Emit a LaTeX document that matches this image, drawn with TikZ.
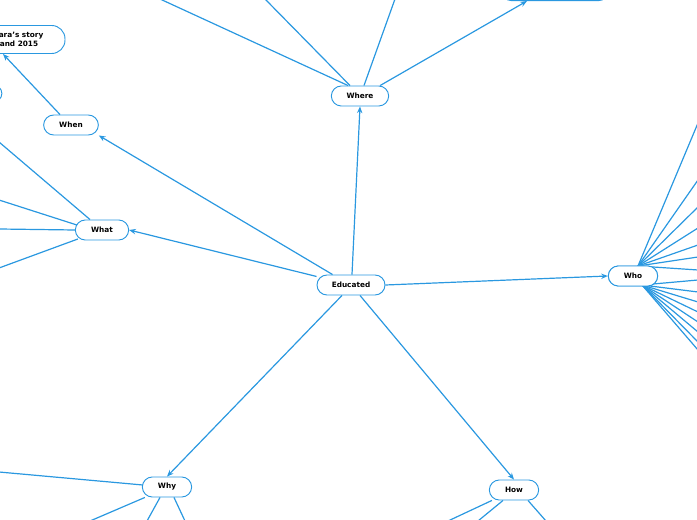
\documentclass[tikz,border=0pt]{standalone}
\usepackage{fontspec}
\setmainfont{DejaVu Sans}
\usetikzlibrary{arrows.meta}
\definecolor{ln}{HTML}{2A98E0}
\begin{document}
\begin{tikzpicture}[x=0.75pt,y=-0.75pt,
  topic/.style={draw=ln,fill=white,rounded corners=7.5pt,line width=0.7pt,minimum height=15pt,inner sep=0pt,font=\fontsize{5.5}{6.5}\selectfont\bfseries,align=center},
  con/.style={draw=ln,line width=0.9pt},
  arr/.style={con,-{Stealth[length=5pt,width=4pt]}}]
\useasboundingbox (0,0) rectangle (697,520);
\clip (0,0) rectangle (697,520);
\node[topic,minimum width=51pt] (edu) at (351,285) {Educated};
\node[topic,minimum width=43pt] (where) at (360,96) {Where};
\node[topic,minimum width=37pt] (who) at (633,276) {Who};
\node[topic,minimum width=40pt] (what) at (102,230) {What};
\node[topic,minimum width=41pt] (when) at (71,125) {When};
\node[topic,minimum width=37pt] (why) at (167,487) {Why};
\node[topic,minimum width=37pt] (how) at (514,490) {How};
\node[topic,minimum width=69pt,minimum height=21pt,rounded corners=10pt] (tara) at (19,39.5) {Tara's story\\and 2015};
\node[topic,minimum width=60pt,minimum height=14pt] (left) at (-38,93.5) {};
\node[topic,minimum width=80pt,minimum height=16pt] (tr) at (555,-10) {};
\coordinate (tarain) at (3,54);
\coordinate (trin) at (527,1);
\draw[arr] (edu.north) ++(1,0) -- (where.south);
\draw[arr] (edu) -- (what.east);
\draw[arr] (edu.north west) ++(16,0) -- (when.south east);
\draw[arr] (edu.east) -- (who.west);
\draw[arr] (edu.south) ++(-9,0) -- (why.north);
\draw[arr] (edu.south) ++(9,0) -- (how.north);
\draw[arr] (when.north) ++(-11,0) -- (tarain);
\draw[arr] (where.north east) ++(-9,0) -- (trin);
\coordinate (t1) at (160,-1); \coordinate (t2) at (265,-1); \coordinate (t3) at (395,-1);
\draw[con] (where.north) ++(-12,0) -- (t1);
\draw[con] (where.north) ++(-10,0) -- (t2);
\draw[con] (where.north) ++(4,0) -- (t3);
\coordinate (w1) at (-1,142); \coordinate (w2) at (-1,200); \coordinate (w3) at (-1,229); \coordinate (w4) at (-1,268);
\draw[con] (what.north) ++(-12,0) -- (w1);
\draw[con] (what.west) ++(2,-5) -- (w2);
\draw[con] (what.west) -- (w3);
\draw[con] (what.west) ++(3,9) -- (w4);
\coordinate (y1) at (-1,472); \coordinate (y2) at (90,521); \coordinate (y3) at (147,521); \coordinate (y4) at (185,521);
\draw[con] (why.west) ++(1,-2) -- (y1);
\draw[con] (why.south west) ++(3,0) -- (y2);
\draw[con] (why.south) ++(-7,0) -- (y3);
\draw[con] (why.south) ++(7,0) -- (y4);
\coordinate (h1) at (448,521); \coordinate (h2) at (478,521); \coordinate (h3) at (546,521);
\draw[con] (how.south west) ++(3,0) -- (h1);
\draw[con] (how.south) ++(-11,0) -- (h2);
\draw[con] (how.south) ++(14,0) -- (h3);
\foreach \yy in {123,180,207,228,245,257,270} \draw[con] (638,266) -- (698,\yy);
\foreach \yy in {280,292,302,312,322,332,342,350} \draw[con] (642,285) -- (698,\yy);
\node[topic,minimum width=37pt] at (633,276) {Who};
\end{tikzpicture}
\end{document}
